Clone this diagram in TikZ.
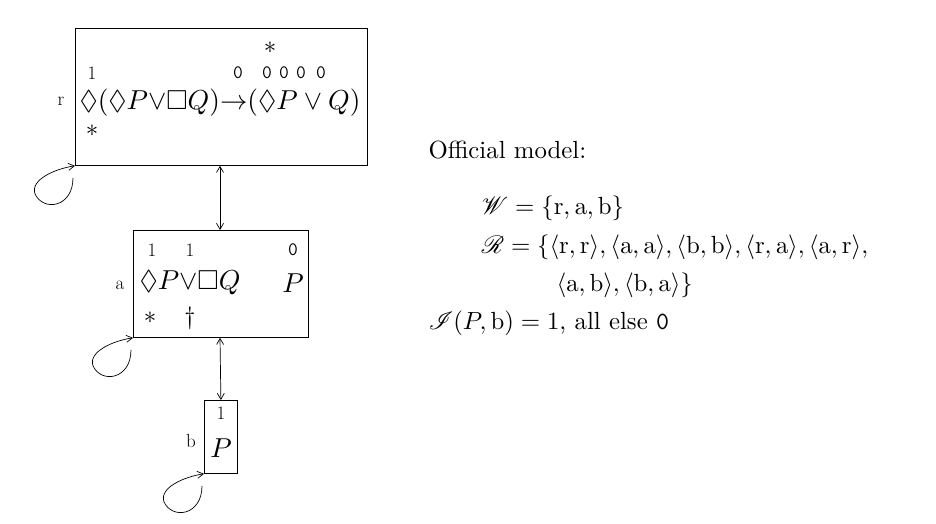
\documentclass[tikz,border=0pt]{standalone}
\usepackage{amssymb,mathrsfs}
\usetikzlibrary{arrows.meta,calc}
\newcommand{\fs}[1]{\fontsize{#1}{#1}\selectfont}
\tikzset{
  world/.style={draw,line width=0.8pt},
  lab/.style={inner sep=0pt,font=\fs{19}},
  star/.style={inner sep=0pt,font=\fs{24}},
  num/.style={inner sep=0pt,font=\fs{19}\ttfamily},
  frm/.style={inner sep=0pt,font=\fs{10},scale=2.74},
  txt/.style={inner sep=0pt,font=\fs{10},scale=2.48,anchor=west},
  acc/.style={line width=0.7pt,{Straight Barb[length=6pt,width=7pt]}-{Straight Barb[length=6pt,width=7pt]}},
  lp/.style={line width=0.7pt,-{Straight Barb[length=6pt,width=7pt]}}
}
\begin{document}
\begin{tikzpicture}[x=1pt,y=-1pt]
\useasboundingbox (0,0) rectangle (936,524);
% boxes
\node[world,minimum width=292,minimum height=137,anchor=north west,inner sep=0] (r) at (75,28) {};
\node[world,minimum width=175,minimum height=107,anchor=north west,inner sep=0] (a) at (133,230) {};
\node[world,minimum width=33,minimum height=73,anchor=north west,inner sep=0] (b) at (204,400) {};
% r contents
\node[lab] (rl) at (61,101) {r};
\node[star] (rs1) at (270,48) {$\ast$};
\node[lab] (r1) at (92,73) {1};
\node[num] (r01) at (238,73) {0};
\node[num] (r02) at (267,73) {0};
\node[num] (r03) at (284,73) {0};
\node[num] (r04) at (301,73) {0};
\node[num] (r05) at (321,73) {0};
\node[frm,anchor=west] (rf) at (79,103) {$\Diamond(\Diamond P{\vee}\Box Q){\rightarrow}(\Diamond P\vee Q)$};
\node[star] (rs2) at (92,131) {$\ast$};
% a contents
\node[lab] (al) at (120,285) {a};
\node[lab] (a1) at (152,250) {1};
\node[lab] (a2) at (190,250) {1};
\node[num] (a0) at (293,250) {0};
\node[frm,anchor=west] (af) at (139,283) {$\Diamond P{\vee}\Box Q$};
\node[frm] (ap) at (293,283) {$P$};
\node[star] (as) at (150,318) {$\ast$};
\node[star] (ad) at (190,318) {$\dagger$};
% b contents
\node[lab] (bl) at (191,441) {b};
\node[lab] (b1) at (221,413) {1};
\node[frm] (bp) at (221,448) {$P$};
% accessibility
\draw[acc] (r.south -| 220,0) -- (a.north -| 220,0);
\draw[acc] (a.south -| 220,0) -- (b.north);
% loops
\foreach \w in {r,a,b}{
  \draw[lp] ($(\w.south west)+(-2,12)$) .. controls ($(\w.south west)+(-2,42)$) and ($(\w.south west)+(-32,46)$) .. ($(\w.south west)+(-40,28)$) .. controls ($(\w.south west)+(-45,14)$) and ($(\w.south west)+(-20,3)$) .. (\w.south west);
}
% official model
\node[txt] (om) at (428,150) {Official model:};
\node[txt] (w) at (481,208) {$\mathscr{W}=\{\mathrm{r},\mathrm{a},\mathrm{b}\}$};
\node[txt] (rr) at (481,247) {$\mathscr{R}=\{\langle\mathrm{r},\mathrm{r}\rangle,\langle\mathrm{a},\mathrm{a}\rangle,\langle\mathrm{b},\mathrm{b}\rangle,\langle\mathrm{r},\mathrm{a}\rangle,\langle\mathrm{a},\mathrm{r}\rangle,$};
\node[txt] (rr2) at (556,285) {$\langle\mathrm{a},\mathrm{b}\rangle,\langle\mathrm{b},\mathrm{a}\rangle\}$};
\node[txt] (ii) at (428,323) {$\mathscr{I}(P,\mathrm{b})=1$, all else \texttt{0}};
\end{tikzpicture}
\end{document}
